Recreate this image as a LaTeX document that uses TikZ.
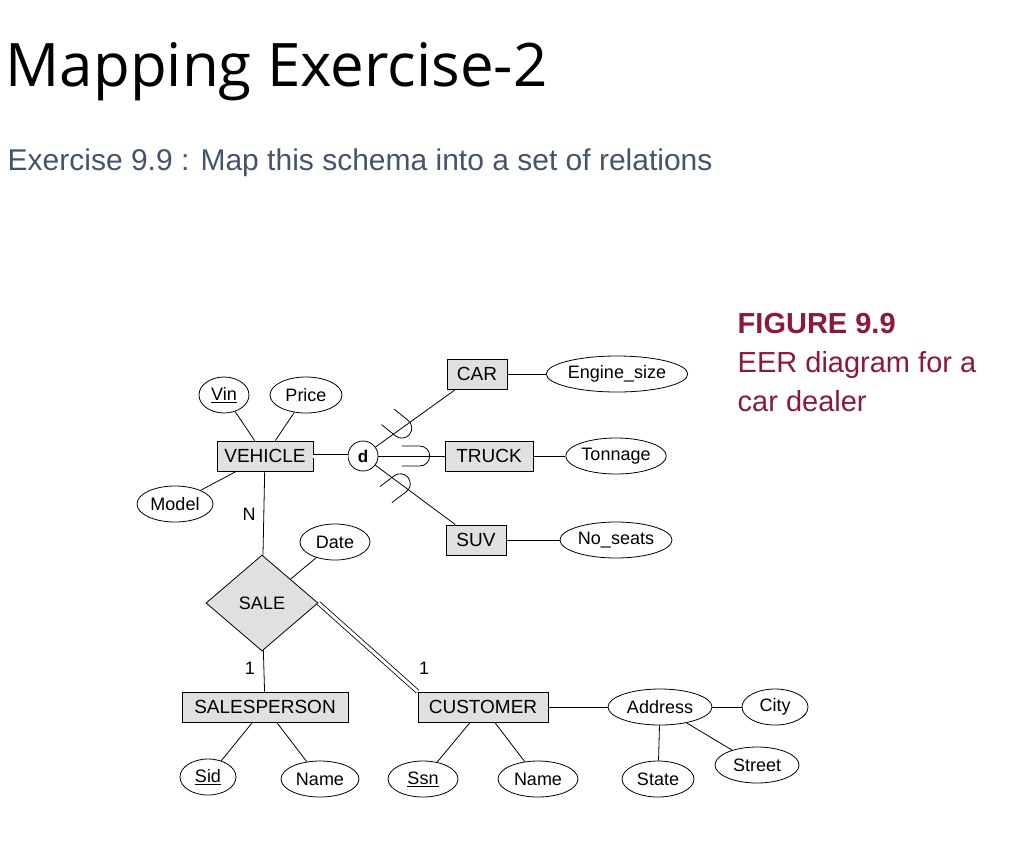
\documentclass[tikz,border=0pt]{standalone}
\usepackage{fontspec}
\setmainfont{Liberation Sans}
\newfontfamily\titlefont{Open Sans}
\usetikzlibrary{shapes.geometric, calc}
\definecolor{boxgray}{RGB}{224,224,224}
\definecolor{figred}{RGB}{140,24,58}
\definecolor{subgray}{RGB}{68,84,106}
\tikzset{
  ent/.style={draw, fill=boxgray, minimum height=30pt, inner sep=0pt, font=\fontsize{19}{21}\selectfont},
  att/.style={draw, ellipse, fill=white, minimum height=36pt, inner sep=1pt, font=\fontsize{18}{20}\selectfont},
  lbl/.style={font=\fontsize{18}{20}\selectfont},
  dbl/.style={double, double distance=3pt},
  subs/.pic={\draw (-18,10) -- (0,10) arc (90:-90:10) -- (-18,-10);}
}
\begin{document}
\begin{tikzpicture}[x=1pt, y=-1pt, line width=0.8pt]
  \useasboundingbox (0,0) rectangle (1024,844);
  \node[anchor=west, font=\titlefont\fontsize{60}{64}\selectfont] at (2,72) {Mapping Exercise-2};
  \node[anchor=west, text=subgray, font=\fontsize{30}{33}\selectfont] at (4,163) {Exercise 9.9 : Map this schema into a set of relations};
  \node[anchor=west, text=figred, align=left, font=\fontsize{29}{39}\selectfont] at (734,363)
    {\textbf{FIGURE 9.9}\\EER diagram for a\\car dealer};

  % entities
  \node[ent, minimum width=96pt] (veh) at (265,456) {VEHICLE};
  \node[ent, minimum width=60pt] (car) at (477,374) {CAR};
  \node[ent, minimum width=88pt] (truck) at (489,456) {TRUCK};
  \node[ent, minimum width=60pt] (suv) at (476,540) {SUV};
  \node[ent, minimum width=166pt] (sp) at (265,707) {SALESPERSON};
  \node[ent, minimum width=130pt] (cust) at (483,707) {CUSTOMER};
  \node[draw, circle, fill=white, minimum size=30pt, inner sep=0pt, font=\bfseries\fontsize{17}{20}\selectfont] (d) at (363,456) {d};
  \node[draw, diamond, fill=boxgray, minimum width=112pt, minimum height=96pt, aspect=1.17, inner sep=0pt, lbl] (sale) at (262,603) {SALE};

  % attributes
  \node[att, minimum width=50pt] (vin) at (224,395) {\underline{Vin}};
  \node[att, minimum width=72pt] (price) at (306,395) {Price};
  \node[att, minimum width=76pt] (model) at (175,504) {Model};
  \node[att, minimum width=126pt] (eng) at (617,374) {Engine\_size};
  \node[att, minimum width=96pt] (ton) at (616,456) {Tonnage};
  \node[att, minimum width=112pt] (seats) at (616,540) {No\_seats};
  \node[att, minimum width=70pt] (date) at (335,542) {Date};
  \node[att, minimum width=104pt] (addr) at (660,707) {Address};
  \node[att, minimum width=66pt] (city) at (775,707) {City};
  \node[att, minimum width=84pt] (street) at (757,765) {Street};
  \node[att, minimum width=72pt] (state) at (658,779) {State};
  \node[att, minimum width=56pt] (sid) at (208,777) {\underline{Sid}};
  \node[att, minimum width=78pt] (spname) at (320,779) {Name};
  \node[att, minimum width=70pt] (ssn) at (423,779) {\underline{Ssn}};
  \node[att, minimum width=80pt] (cname) at (538,779) {Name};

  % connectors
  \draw (vin) -- (veh); \draw (price) -- (veh); \draw (model) -- (veh);
  \draw[dbl] (veh) -- (d);
  \draw (d) -- (car); \draw (d) -- (truck); \draw (d) -- (suv);
  \draw (car) -- (eng); \draw (truck) -- (ton); \draw (suv) -- (seats);
  \draw (veh) -- (sale); \draw (date) -- (sale);
  \draw (sale) -- (sp);
  \draw[dbl] (sale.east) -- (cust.north west);
  \draw (cust) -- (addr); \draw (addr) -- (city); \draw (addr) -- (street); \draw (addr) -- (state);
  \draw (sid) -- (sp); \draw (spname) -- (sp); \draw (ssn) -- (cust); \draw (cname) -- (cust);

  % subset marks
  \pic[rotate=-39] at ($(d)!0.34!(car)$) {subs};
  \pic at ($(d)!0.45!(truck)$) {subs};
  \pic[rotate=37] at ($(d)!0.33!(suv)$) {subs};

  \node[lbl] (n) at (249,514) {N};
  \node[lbl] (one1) at (250,668) {1};
  \node[lbl] (one2) at (424,668) {1};
\end{tikzpicture}
\end{document}
